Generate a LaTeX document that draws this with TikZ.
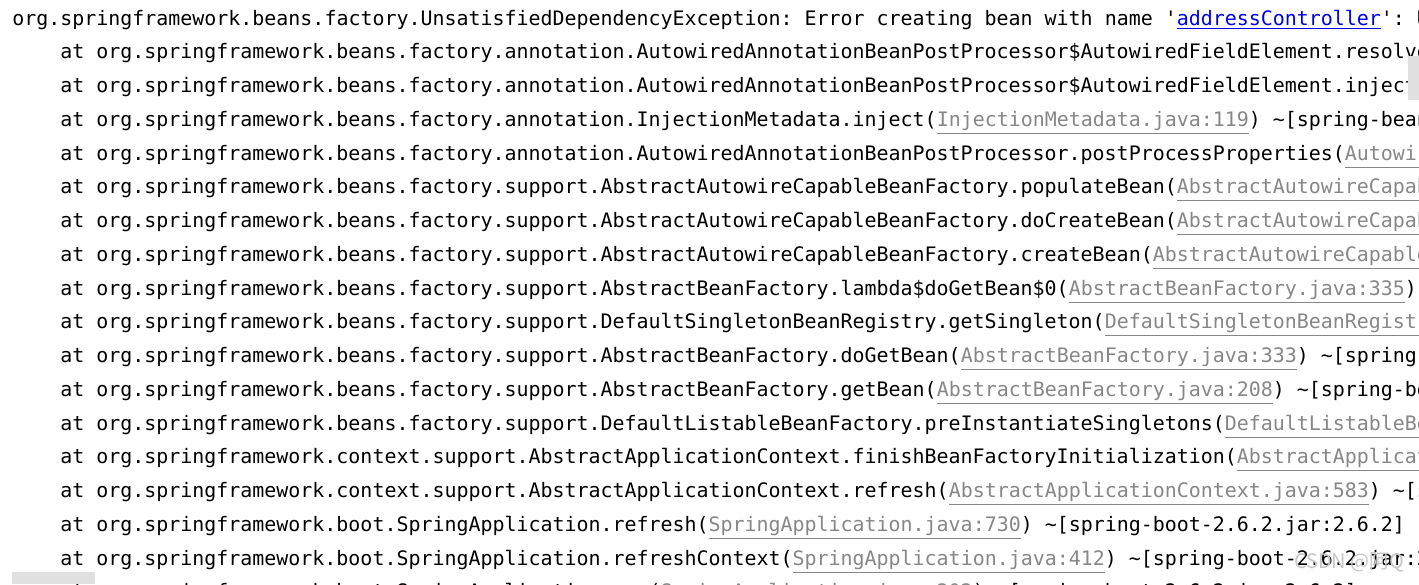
\documentclass[tikz,border=0pt]{standalone}
\usepackage{fontspec}
\setmonofont{DejaVu Sans Mono}
\newfontfamily\cjk{Noto Sans CJK SC}
\definecolor{lg}{RGB}{135,135,135}
\definecolor{lk}{RGB}{0,0,238}
\newcommand{\lnk}[1]{{\color{lg}\underline{#1}}}
\newcommand{\blk}[1]{{\color{lk}\underline{#1}}}
\begin{document}
\begin{tikzpicture}[x=0.5pt,y=-0.5pt,
  tl/.style={anchor=base west,inner sep=0pt,font=\ttfamily\fontsize{9.97pt}{12pt}\selectfont}]
\useasboundingbox (0,0) rectangle (1419,584);
\fill[white] (0,0) rectangle (1419,584);
\clip (0,0) rectangle (1419,584);
\node[tl] (l0) at (12,25) {org.springframework.beans.factory.UnsatisfiedDependencyException: Error creating bean with name '\blk{addressController}': Unsatisfied dependency};
\node[tl] (l1) at (60,58.75) {at org.springframework.beans.factory.annotation.AutowiredAnnotationBeanPostProcessor\$AutowiredFieldElement.resolveFieldValue};
\node[tl] (l2) at (60,92.5) {at org.springframework.beans.factory.annotation.AutowiredAnnotationBeanPostProcessor\$AutowiredFieldElement.inject};
\node[tl] (l3) at (60,126.25) {at org.springframework.beans.factory.annotation.InjectionMetadata.inject(\lnk{InjectionMetadata.java:119}) \string~[spring-beans-5.3.14.jar:5.3.14]};
\node[tl] (l4) at (60,160) {at org.springframework.beans.factory.annotation.AutowiredAnnotationBeanPostProcessor.postProcessProperties(\lnk{AutowiredAnnotationBeanPostProcessor.java}};
\node[tl] (l5) at (60,193.75) {at org.springframework.beans.factory.support.AbstractAutowireCapableBeanFactory.populateBean(\lnk{AbstractAutowireCapableBeanFactory.java}};
\node[tl] (l6) at (60,227.5) {at org.springframework.beans.factory.support.AbstractAutowireCapableBeanFactory.doCreateBean(\lnk{AbstractAutowireCapableBeanFactory.java}};
\node[tl] (l7) at (60,261.25) {at org.springframework.beans.factory.support.AbstractAutowireCapableBeanFactory.createBean(\lnk{AbstractAutowireCapableBeanFactory.java}};
\node[tl] (l8) at (60,295) {at org.springframework.beans.factory.support.AbstractBeanFactory.lambda\$doGetBean\$0(\lnk{AbstractBeanFactory.java:335}) \string~[spring-beans};
\node[tl] (l9) at (60,328.75) {at org.springframework.beans.factory.support.DefaultSingletonBeanRegistry.getSingleton(\lnk{DefaultSingletonBeanRegistry.java}};
\node[tl] (l10) at (60,362.5) {at org.springframework.beans.factory.support.AbstractBeanFactory.doGetBean(\lnk{AbstractBeanFactory.java:333}) \string~[spring-beans};
\node[tl] (l11) at (60,396.25) {at org.springframework.beans.factory.support.AbstractBeanFactory.getBean(\lnk{AbstractBeanFactory.java:208}) \string~[spring-beans};
\node[tl] (l12) at (60,430) {at org.springframework.beans.factory.support.DefaultListableBeanFactory.preInstantiateSingletons(\lnk{DefaultListableBeanFactory.java}};
\node[tl] (l13) at (60,463.75) {at org.springframework.context.support.AbstractApplicationContext.finishBeanFactoryInitialization(\lnk{AbstractApplicationContext.java}};
\node[tl] (l14) at (60,497.5) {at org.springframework.context.support.AbstractApplicationContext.refresh(\lnk{AbstractApplicationContext.java:583}) \string~[spring-context};
\node[tl] (l15) at (60,531.25) {at org.springframework.boot.SpringApplication.refresh(\lnk{SpringApplication.java:730}) \string~[spring-boot-2.6.2.jar:2.6.2]};
\node[tl] (l16) at (60,565) {at org.springframework.boot.SpringApplication.refreshContext(\lnk{SpringApplication.java:412}) \string~[spring-boot-2.6.2.jar:2.6.2]};
\node[tl] (l17) at (60,598.75) {at org.springframework.boot.SpringApplication.run(\lnk{SpringApplication.java:302}) \string~[spring-boot-2.6.2.jar:2.6.2]};
\fill[black!12] (1408,56) rectangle (1419,100);
\fill[black!12] (12,572) rectangle (95,584);
\node[anchor=east,inner sep=0pt,text=black!22,font=\cjk\fontsize{10pt}{12pt}\selectfont] (wm) at (1405,562) {CSDN @阿Q};
\end{tikzpicture}
\end{document}
